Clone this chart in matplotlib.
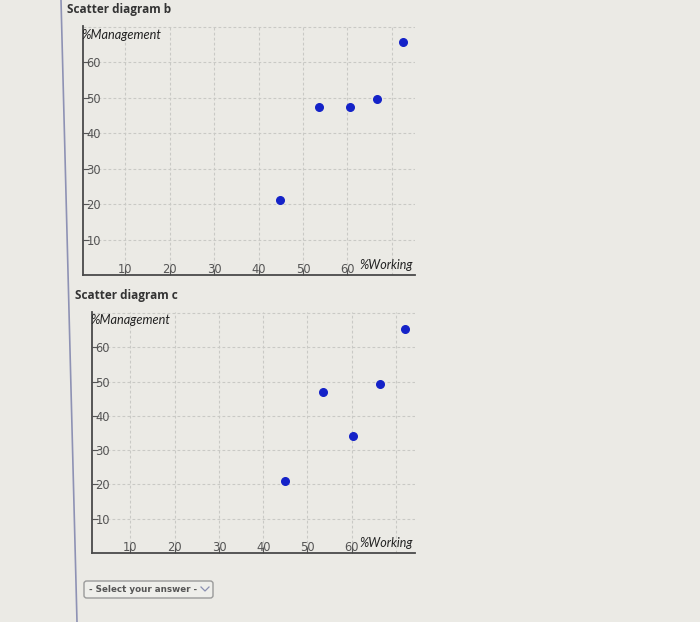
import matplotlib.pyplot as plt
from matplotlib.patches import FancyBboxPatch
from matplotlib.lines import Line2D

# values
ticks = [10, 20, 30, 40, 50, 60]
b_working = [44.8, 53.7, 60.6, 66.7, 72.5]
b_management = [21.2, 47.4, 47.4, 49.6, 65.8]
c_working = [45.0, 53.6, 60.4, 66.3, 72.1]
c_management = [21.0, 47.0, 34.1, 49.2, 65.3]

W, H = 700, 622
bg = "#ebeae5"
fig = plt.figure(figsize=(W / 100, H / 100), dpi=100, facecolor=bg)


def px(x0, y0, x1, y1):
    # pixel box -> figure fraction rect
    return [x0 / W, 1 - y1 / H, (x1 - x0) / W, (y1 - y0) / H]


def scatter_panel(rect, xs, ys, xlim):
    ax = fig.add_axes(rect, facecolor="none")
    ax.set_xlim(*xlim)
    ax.set_ylim(0, 70.3)
    ax.set_xticks(ticks)
    ax.set_yticks(ticks)
    ax.set_xticks([70], minor=True)
    ax.set_yticks([70], minor=True)
    ax.grid(True, which="both", color="#c9c9c5", linestyle=(0, (2.5, 2)), linewidth=0.8)
    for s in ["top", "right"]:
        ax.spines[s].set_visible(False)
    for s in ["left", "bottom"]:
        ax.spines[s].set_color("#4a4a4a")
        ax.spines[s].set_linewidth(1.3)
    ax.tick_params(which="major", direction="in", length=4, color="#555555",
                   labelcolor="#555555", labelsize=8.3)
    ax.tick_params(which="minor", length=0)
    ax.tick_params(axis="y", pad=-2.5)
    ax.tick_params(axis="x", pad=-8.6)
    for lab in ax.get_yticklabels():
        lab.set_ha("left")
    ax.scatter(xs, ys, s=30, color="#1422c8", zorder=3)
    ax.text(-0.005, 0.965, "%Management", transform=ax.transAxes, fontsize=9.2,
            style="italic", family="Lato", color="#222222", ha="left", va="center")
    ax.text(0.992, 0.015, "%Working", transform=ax.transAxes, fontsize=9,
            style="italic", family="Lato", color="#222222", ha="right", va="bottom")
    return ax


fig.text(67 / W, 1 - 9 / H, "Scatter diagram b", fontsize=8.5, fontweight="bold",
         family="Open Sans", color="#333333", va="center")
scatter_panel(px(83, 26, 415, 275), b_working, b_management, (0.5, 75.2))

fig.text(75 / W, 1 - 296 / H, "Scatter diagram c", fontsize=8.5, fontweight="bold",
         family="Open Sans", color="#333333", va="center")
scatter_panel(px(92, 312, 415, 553), c_working, c_management, (1.3, 74.3))

# page border on the left
fig.add_artist(Line2D([61 / W, 77 / W], [1, 0], color="#8e92b4", linewidth=1.2))

# answer drop-down
fig.add_artist(FancyBboxPatch((84 / W, 1 - 598 / H), 129 / W, 17 / H,
                              boxstyle="round,pad=0,rounding_size=0.004",
                              facecolor="#eeeeea", edgecolor="#9a9a9a", linewidth=1))
fig.text(89 / W, 1 - 589.5 / H, "- Select your answer -", fontsize=6.3, fontweight="bold",
         color="#555555", va="center")
fig.add_artist(Line2D([201 / W, 205 / W, 209 / W], [1 - 587 / H, 1 - 591 / H, 1 - 587 / H],
                      color="#8a8fb0", linewidth=0.9))

fig.savefig("out.png", dpi=100, facecolor=bg)
